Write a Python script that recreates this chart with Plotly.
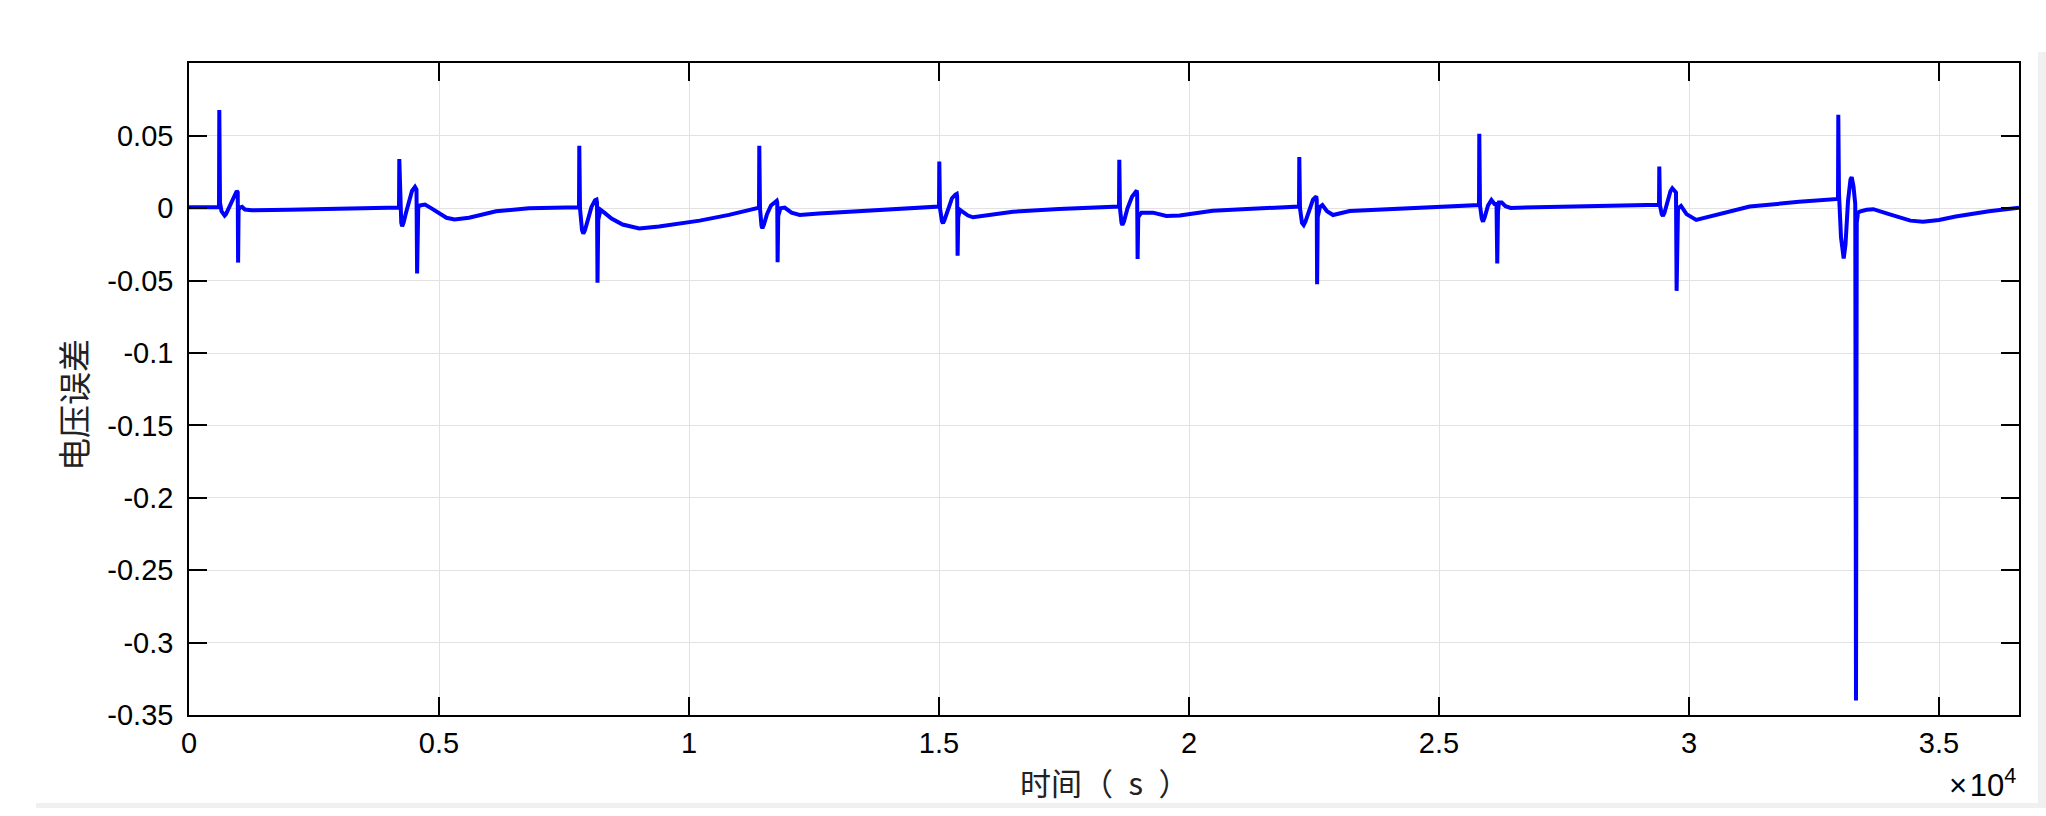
import plotly.graph_objects as go

# ---- data (time in s, voltage error) ----
t_ev1 = [0, 600, 606, 620, 650, 690, 713, 740, 790, 850, 910, 955, 975, 982, 992, 1020, 1060, 1120, 1250, 2000, 3000, 4195]
v_ev1 = [0.0008, 0.0008, 0.068, 0.004, -0.002, -0.0045, -0.005, -0.004, 0.000, 0.005, 0.010, 0.012, 0.011, -0.0375, -0.001, 0.0005, 0.001, -0.0008, -0.0013, -0.001, -0.0003, 0.0005]

t_ev2 = [4200, 4206, 4220, 4245, 4263, 4290, 4340, 4400, 4460, 4520, 4550, 4562, 4572, 4585, 4620, 4720, 4850, 5000, 5150, 5309, 5600, 6142, 6800, 7795]
v_ev2 = [0.0005, 0.034, 0.002, -0.010, -0.0123, -0.010, -0.003, 0.005, 0.012, 0.0148, 0.013, -0.045, -0.004, 0.001, 0.002, 0.0026, 0.000, -0.003, -0.0065, -0.0077, -0.0065, -0.002, 0.000, 0.0008]

t_ev3 = [7800, 7806, 7820, 7860, 7886, 7920, 7980, 8050, 8120, 8150, 8160, 8170, 8185, 8230, 8306, 8450, 8672, 9005, 9400, 9814, 10214, 10800, 11395]
v_ev3 = [0.0008, 0.0433, 0.0, -0.015, -0.0174, -0.015, -0.007, 0.001, 0.0055, 0.006, 0.004, -0.0514, -0.008, -0.001, -0.003, -0.007, -0.0112, -0.0139, -0.0125, -0.0108, -0.0085, -0.0045, 0.0005]

t_ev4 = [11400, 11406, 11420, 11450, 11468, 11500, 11560, 11640, 11720, 11755, 11765, 11772, 11785, 11830, 11914, 12050, 12214, 12600, 13474, 14995]
v_ev4 = [0.0005, 0.0432, 0.0, -0.012, -0.0138, -0.011, -0.004, 0.002, 0.005, 0.0053, 0.004, -0.0373, -0.005, 0.0, 0.0005, -0.003, -0.0046, -0.0035, -0.0018, 0.0012]

t_ev5 = [15000, 15006, 15020, 15060, 15080, 15110, 15180, 15260, 15330, 15355, 15363, 15372, 15385, 15420, 15480, 15580, 15680, 16000, 16480, 17400, 18595]
v_ev5 = [0.0012, 0.0323, 0.0, -0.009, -0.0103, -0.008, 0.000, 0.007, 0.0095, 0.010, 0.008, -0.0327, -0.006, -0.001, -0.0023, -0.005, -0.0062, -0.0045, -0.0023, -0.0005, 0.0012]

t_ev6 = [18600, 18606, 18620, 18650, 18668, 18700, 18770, 18860, 18930, 18955, 18963, 18972, 18985, 19048, 19280, 19548, 19814, 20474, 21814, 22195]
v_ev6 = [0.0012, 0.0335, 0.0, -0.010, -0.0115, -0.009, 0.000, 0.008, 0.012, 0.0123, 0.010, -0.035, -0.006, -0.003, -0.003, -0.0053, -0.005, -0.0016, 0.001, 0.0012]

t_ev7 = [22200, 22206, 22220, 22260, 22294, 22330, 22400, 22480, 22530, 22548, 22555, 22562, 22575, 22620, 22668, 22760, 22880, 23214, 24474, 25680, 25795]
v_ev7 = [0.0012, 0.0354, 0.0, -0.010, -0.0115, -0.009, -0.001, 0.006, 0.0077, 0.0075, 0.006, -0.0524, -0.006, 0.001, 0.0023, -0.002, -0.0046, -0.0018, 0.0005, 0.0023, 0.0023]

t_ev8 = [25800, 25806, 25820, 25855, 25880, 25915, 25980, 26048, 26110, 26150, 26165, 26180, 26200, 26254, 26330, 26434, 27500, 29395]
v_ev8 = [0.0023, 0.0515, 0.002, -0.007, -0.0092, -0.006, 0.002, 0.0058, 0.003, 0.003, -0.038, -0.002, 0.004, 0.004, 0.0015, 0.0003, 0.0012, 0.0025]

t_ev9 = [29400, 29406, 29420, 29455, 29480, 29510, 29570, 29630, 29666, 29700, 29740, 29752, 29764, 29780, 29840, 29950, 30144, 30500, 31214, 32200, 32975]
v_ev9 = [0.0025, 0.0289, 0.002, -0.004, -0.0053, -0.003, 0.005, 0.012, 0.0139, 0.012, 0.011, -0.057, -0.010, 0.0, 0.0017, -0.004, -0.008, -0.005, 0.0012, 0.0045, 0.0065]

t_ev10 = [32980, 32986, 33000, 33040, 33070, 33094, 33130, 33180, 33230, 33254, 33290, 33325, 33340, 33355, 33380, 33414, 33550, 33686, 34000, 34428, 34680, 35000, 35334, 36000, 36600]
v_ev10 = [0.0065, 0.0647, 0.01, -0.02, -0.032, -0.0346, -0.025, 0.005, 0.02, 0.0215, 0.015, 0.003, -0.340, -0.010, -0.003, -0.0023, -0.001, -0.0006, -0.004, -0.0085, -0.0092, -0.008, -0.0057, -0.002, 0.0005]

x_tickvals = [0, 5000, 10000, 15000, 20000, 25000, 30000, 35000]
x_ticktext = ["0", "0.5", "1", "1.5", "2", "2.5", "3", "3.5"]
y_tickvals = [-0.35, -0.3, -0.25, -0.2, -0.15, -0.1, -0.05, 0, 0.05]
y_ticktext = ["-0.35", "-0.3", "-0.25", "-0.2", "-0.15", "-0.1", "-0.05", "0", "0.05"]

x_title = "时间（\u2002s\u2002）"
y_title = "电压误差"
x_exponent = "×\u200a10<sup>4</sup>"

# ---- assemble series ----
t_all = t_ev1 + t_ev2 + t_ev3 + t_ev4 + t_ev5 + t_ev6 + t_ev7 + t_ev8 + t_ev9 + t_ev10
v_all = v_ev1 + v_ev2 + v_ev3 + v_ev4 + v_ev5 + v_ev6 + v_ev7 + v_ev8 + v_ev9 + v_ev10

W, H = 2046, 816
L, R, T, B = 189, 27, 63, 101
PW, PH = W - L - R, H - T - B


def px(x):
    return (x - L) / PW


def py(y):
    return (H - B - y) / PH


fig = go.Figure()
fig.add_trace(go.Scatter(x=t_all, y=v_all, mode="lines",
                         line=dict(color="#0000ff", width=4),
                         hoverinfo="skip"))

axis_common = dict(showgrid=True, gridcolor="#e2e2e2", gridwidth=1,
                   showline=True, linecolor="black", linewidth=1.5,
                   mirror="ticks", ticks="inside", ticklen=18,
                   tickcolor="black", tickwidth=1.5, zeroline=False,
                   tickfont=dict(family="Liberation Sans, Arial", size=29, color="black"))

fig.update_xaxes(range=[0, 36600], tickmode="array", tickvals=x_tickvals,
                 ticktext=x_ticktext, ticklabelstandoff=1, **axis_common)
fig.update_yaxes(range=[-0.35, 0.1004], tickmode="array", tickvals=y_tickvals,
                 ticktext=y_ticktext, ticklabelstandoff=8, **axis_common)

shapes = [
    # light gray window frame (right and bottom)
    dict(type="rect", xref="paper", yref="paper", x0=px(2038), x1=px(2046),
         y0=py(808), y1=py(52), fillcolor="#f0f0f0", line=dict(width=0), layer="below"),
    dict(type="rect", xref="paper", yref="paper", x0=px(36), x1=px(2046),
         y0=py(808), y1=py(803), fillcolor="#f0f0f0", line=dict(width=0), layer="below"),
]

annotations = [
    dict(text=y_title, xref="paper", yref="paper", x=px(73), y=py(405),
         xanchor="center", yanchor="middle", textangle=-90, showarrow=False,
         font=dict(family="Noto Sans CJK SC", size=33, color="#222222")),
    dict(text=x_title, xref="paper", yref="paper", x=px(1105), y=py(781),
         xanchor="center", yanchor="middle", showarrow=False,
         font=dict(family="Noto Sans CJK SC", size=31, color="#222222")),
    dict(text=x_exponent, xref="paper", yref="paper", x=px(2018), y=py(783),
         xanchor="right", yanchor="middle", showarrow=False,
         font=dict(family="Liberation Sans, Arial", size=31, color="black")),
]

fig.update_layout(width=W, height=H, autosize=False,
                  margin=dict(l=L, r=R, t=T, b=B, pad=0),
                  paper_bgcolor="white", plot_bgcolor="white",
                  showlegend=False, shapes=shapes, annotations=annotations,
                  font=dict(family="Liberation Sans, Arial", size=29, color="black"))

fig.write_html("out.html", config={"displayModeBar": False},
               post_script="document.body.style.margin='0';document.body.style.overflow='hidden';")
